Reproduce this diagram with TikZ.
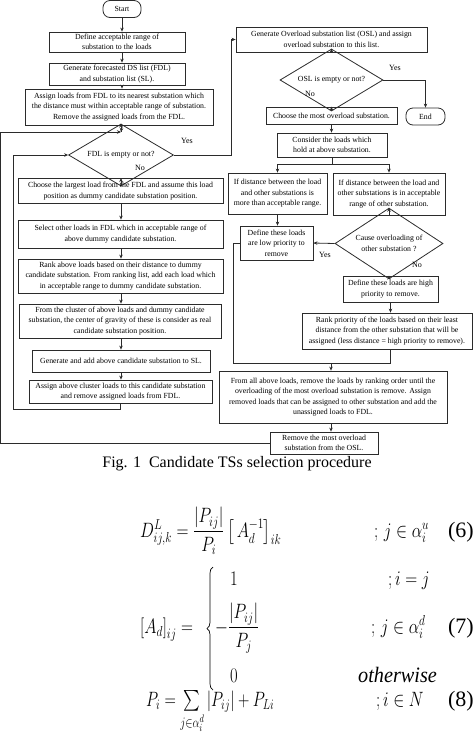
\documentclass[tikz,border=0pt]{standalone}
\usepackage{amsmath}
\usepackage{graphicx}
\usepackage{fontspec}
\setmainfont{Liberation Serif}
\usetikzlibrary{arrows.meta,positioning,shapes.geometric,decorations.pathreplacing}
\definecolor{inkline}{HTML}{2B2B2B}
\tikzset{
  flowbox/.style={draw=inkline, line width=0.8pt, align=center, inner sep=1pt,
    font=\fontsize{7.8}{10.5}\selectfont},
  termbox/.style={flowbox, rounded corners=7pt},
  decision/.style={flowbox, diamond, inner sep=-3pt},
  arr/.style={-{Stealth[length=4pt,width=3.5pt]}, line width=0.8pt, draw=inkline},
  plain/.style={line width=0.8pt, draw=inkline},
  tag/.style={font=\fontsize{8}{10}\selectfont, inner sep=0pt},
  eqtext/.style={font=\fontsize{22}{26}\selectfont, inner sep=0pt},
  casebrace/.style={decorate, decoration={brace, amplitude=6pt}, line width=0.7pt}
}
\newcommand{\narrow}[1]{\scalebox{0.8}[1]{#1}}

\begin{document}
\begin{tikzpicture}[x=1pt, y=-1pt]
  \useasboundingbox (0,0) rectangle (474,740);
  % left column
  \node[termbox, minimum width=38, minimum height=17] (start) at (122,9) {Start};
  \node[flowbox, minimum width=136, minimum height=20] (defRange) at (117,42) {Define acceptable range of\\substation to the loads};
  \node[flowbox, minimum width=136, minimum height=22] (genLists) at (117,74) {Generate forecasted DS list (FDL)\\and substation list (SL).};
  \node[flowbox, minimum width=188, minimum height=36] (assignNear) at (119,107) {Assign loads from FDL to its nearest substation which\\the distance must within acceptable range of substation.\\Remove the assigned loads from the FDL.};
  \coordinate (joinFDL) at (121,132);
  \node[decision, minimum width=105, minimum height=32] (fdlEmpty) at (121,155) {FDL is empty or not?};
  \node[flowbox, minimum width=205, minimum height=25, font=\fontsize{7.8}{11.5}\selectfont] (chooseLargest) at (120.5,191) {Choose the largest load from the FDL and assume this load\\position as dummy candidate substation position.};
  \node[flowbox, minimum width=205, minimum height=28] (selectOther) at (120.5,234) {Select other loads in FDL which in acceptable range of\\above dummy candidate substation.};
  \node[flowbox, minimum width=205, minimum height=34] (rankAbove) at (120.5,276) {Rank above loads based on their distance to dummy\\candidate substation. From ranking list, add each load which\\in acceptable range to dummy candidate substation.};
  \node[flowbox, minimum width=202, minimum height=34] (gravity) at (120,321) {From the cluster of above loads and dummy candidate\\substation, the center of gravity of these is consider as real\\candidate substation position.};
  \node[flowbox, minimum width=178, minimum height=22] (genCand) at (121,361) {Generate and add above candidate substation to SL.};
  \node[flowbox, minimum width=183, minimum height=23] (assignCluster) at (120.5,391.5) {Assign above cluster loads to this candidate substation\\and remove assigned loads from FDL.};

  % right column
  \node[flowbox, minimum width=191, minimum height=25] (genOSL) at (331.5,39.5) {Generate Overload substation list (OSL) and assign\\overload substation to this list.};
  \node[decision, minimum width=103, minimum height=26] (oslEmpty) at (331.5,80) {OSL is empty or not?};
  \node[termbox, minimum width=39, minimum height=17] (finish) at (425.5,116.5) {End};
  \node[flowbox, minimum width=131, minimum height=17] (chooseMost) at (331.5,115.5) {Choose the most overload substation.};
  \node[flowbox, minimum width=110, minimum height=24] (consider) at (332,145) {Consider the loads which\\hold at above substation.};
  \coordinate (splitLoads) at (332,164);
  \node[flowbox, minimum width=99, minimum height=41] (farRange) at (277.5,193.5) {If distance between the load\\and other substations is\\more than acceptable range.};
  \node[flowbox, minimum width=112, minimum height=42] (inRange) at (389,194) {If distance between the load and\\other substations is in acceptable\\range of other substation.};
  \node[flowbox, minimum width=73, minimum height=34] (lowPrio) at (276.5,243) {Define these loads\\are low priority to\\remove};
  \node[decision, minimum width=108, minimum height=37] (causeOver) at (389,243.5) {Cause overloading of\\other substation ?};
  \node[flowbox, minimum width=95, minimum height=26] (highPrio) at (390.5,289) {Define these loads are high\\priority to remove.};
  \node[flowbox, minimum width=170, minimum height=36] (rankPrio) at (387,331) {Rank priority of the loads based on their least\\distance from the other substation that will be\\assigned (less distance = high priority to remove).};
  \coordinate (joinLoads) at (331,363);
  \node[flowbox, minimum width=228, minimum height=52] (removeLoads) at (333,397) {From all above loads, remove the loads by ranking order until the\\overloading of the most overload substation is remove. Assign\\removed loads that can be assigned to other substation and add the\\unassigned loads to FDL.};
  \node[flowbox, minimum width=108, minimum height=22] (removeOSL) at (324,443) {Remove the most overload\\substation from the OSL.};

  % branch labels
  \node[tag] (yesFDL) at (187,141) {Yes};
  \node[tag] (noFDL) at (140,168) {No};
  \node[tag] (yesOSL) at (395,68) {Yes};
  \node[tag] (noOSL) at (310,94) {No};
  \node[tag] (yesCause) at (325,255) {Yes};
  \node[tag] (noCause) at (417,265) {No};

  % left connectors
  \draw[arr] (start.south) -- (start.south |- defRange.north);
  \draw[arr] (start.south |- defRange.south) -- (start.south |- genLists.north);
  \draw[arr] (start.south |- genLists.south) -- (start.south |- assignNear.north);
  \draw[arr] (start.south |- assignNear.south) -- (joinFDL);
  \draw[arr] (joinFDL) -- (fdlEmpty.north);
  \draw[arr] (fdlEmpty.south) -- (fdlEmpty.south |- chooseLargest.north);
  \draw[arr] (fdlEmpty.south |- chooseLargest.south) -- (fdlEmpty.south |- selectOther.north);
  \draw[arr] (fdlEmpty.south |- selectOther.south) -- (fdlEmpty.south |- rankAbove.north);
  \draw[arr] (fdlEmpty.south |- rankAbove.south) -- (fdlEmpty.south |- gravity.north);
  \draw[arr] (fdlEmpty.south |- gravity.south) -- (fdlEmpty.south |- genCand.north);
  \draw[arr] (fdlEmpty.south |- genCand.south) -- (fdlEmpty.south |- assignCluster.north);
  \draw[arr] (assignCluster.south) -- ++(0,6) -- ++(-107.5,0) |- (fdlEmpty.west);
  \draw[arr] (removeOSL.west) -- ++(-269,0) |- (joinFDL);
  \draw[arr] (fdlEmpty.east) -- ++(57.5,0) |- (genOSL.west);

  % right connectors
  \draw[arr] (genOSL.south) -- (oslEmpty.north);
  \draw[arr] (oslEmpty.east) -| (finish.north);
  \draw[arr] (oslEmpty.south) -- (chooseMost.north);
  \draw[arr] (chooseMost.south) -- (chooseMost.south |- consider.north);
  \draw[plain] (consider.south) -- (splitLoads);
  \draw[arr] (splitLoads) -| (farRange.north);
  \draw[arr] (splitLoads) -| (inRange.north);
  \draw[arr] (farRange.south) -- (farRange.south |- lowPrio.north);
  \draw[arr] (inRange.south) -- (causeOver.north);
  \draw[arr] (causeOver.west) -- (lowPrio.east);
  \draw[arr] (causeOver.south) -- (causeOver.south |- highPrio.north);
  \draw[arr] (highPrio.south) -- (highPrio.south |- rankPrio.north);
  \draw[plain] (lowPrio.west) -- ++(-6,0) |- (joinLoads);
  \draw[plain] (highPrio.south |- rankPrio.south) |- (joinLoads);
  \draw[arr] (joinLoads) -- (joinLoads |- removeLoads.north);
  \draw[arr] (joinLoads |- removeLoads.south) -- (joinLoads |- removeOSL.north);

  \node[font=\fontsize{16}{19}\selectfont, inner sep=0pt] (caption) at (237,464) {Fig. 1\ \ Candidate TSs selection procedure};

  % equations
  \node[eqtext, anchor=base west] (eqSix) at (140,537) {\narrow{$D^{L}_{ij,k}=\dfrac{\left|P_{ij}\right|}{P_i}\left[\,A_d^{-1}\right]_{ik}$}};
  \node[eqtext, anchor=base west] (condSix) at (374,537) {\narrow{$;\,j\in\alpha_i^{u}$}};
  \node[eqtext, anchor=base east] (numSix) at (474,537) {(6)};

  \node[eqtext, anchor=base west] (eqSeven) at (140,633) {\narrow{$\left[A_d\right]_{ij}=$}};
  \coordinate (braceLow) at (213,690);
  \coordinate (braceHigh) at (213,567);
  \draw[casebrace] (braceLow) -- (braceHigh);
  \node[eqtext, anchor=base west] (caseOne) at (230,585) {\narrow{$1$}};
  \node[eqtext, anchor=base west] (caseTwo) at (215,633) {\narrow{$-\dfrac{\left|P_{ij}\right|}{P_j}$}};
  \node[eqtext, anchor=base west] (caseThree) at (230,682) {\narrow{$0$}};
  \node[eqtext, anchor=base west] (condOne) at (388,585) {\narrow{$;i=j$}};
  \node[eqtext, anchor=base west] (condTwo) at (371,633) {\narrow{$;\,j\in\alpha_i^{d}$}};
  \node[eqtext, anchor=base west] (condThree) at (358,682) {\scalebox{0.92}[1]{\textit{otherwise}}};
  \node[eqtext, anchor=base east] (numSeven) at (474,633) {(7)};

  \node[eqtext, anchor=base west] (eqEight) at (146,706) {\scalebox{0.76}[1]{$P_i=\sum\limits_{j\in\alpha_i^{d}}\left|P_{ij}\right|+P_{Li}$}};
  \node[eqtext, anchor=base west] (condEight) at (376,706) {\narrow{$;i\in N$}};
  \node[eqtext, anchor=base east] (numEight) at (474,706) {(8)};
\end{tikzpicture}
\end{document}
